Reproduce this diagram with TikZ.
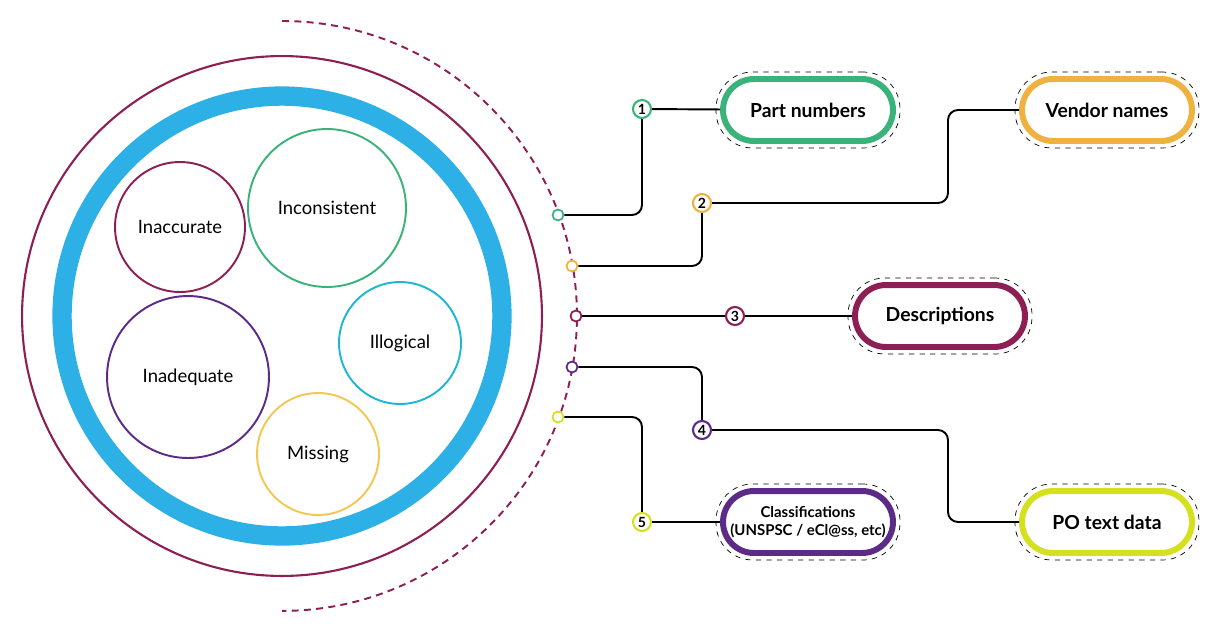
\documentclass[tikz,border=0pt]{standalone}
\usepackage{fontspec}
\setmainfont{Lato}
\usetikzlibrary{fit}
\definecolor{maroon}{HTML}{8E1F55}
\definecolor{ringblue}{HTML}{2DB0E6}
\definecolor{cgreen}{HTML}{3AB37B}
\definecolor{ccyan}{HTML}{1DB7D3}
\definecolor{cpurple}{HTML}{5C2B87}
\definecolor{cyellow}{HTML}{F3C752}
\definecolor{corange}{HTML}{EFB23F}
\definecolor{clime}{HTML}{D5E021}
\tikzset{
	issue/.style  = {draw=#1, line width=1.1pt, circle, font=\fontsize{10.5}{12}\selectfont},
	pill/.style   = {draw=#1, line width=3.4pt, rounded corners=0.62cm, minimum width=3.4cm,
		minimum height=1.24cm, font=\fontsize{11}{13}\bfseries\selectfont, align=center},
	halo/.style   = {draw, dashed, thin, rounded corners=0.73cm, inner sep=0.08cm},
	num/.style    = {draw=#1, fill=white, line width=1.2pt, circle, inner sep=0pt, minimum size=0.36cm,
		font=\fontsize{8}{9}\bfseries\selectfont},
	dot/.style    = {draw=#1, fill=white, line width=1pt, circle, inner sep=0pt, minimum size=0.22cm},
	link/.style   = {line width=1.1pt, rounded corners=0.2cm}
}
\begin{document}
\begin{tikzpicture}[x=0.02cm, y=-0.02cm]
\useasboundingbox (0,0) rectangle (1221,633);
% big circles
\coordinate (c) at (282,316);
\draw[maroon, line width=1.2pt] (c) circle[radius=5.2cm];
\draw[ringblue, line width=11pt] (c) circle[radius=4.4cm];
\draw[maroon, line width=1.1pt, dash pattern=on 4pt off 3pt] (282,21) arc[start angle=90, end angle=-90, radius=5.9cm];
% the issues
\node[issue=maroon, minimum size=2.6cm] (inacc) at (180,227) {Inaccurate};
\node[issue=cgreen, minimum size=3.16cm] (incons) at (327,208) {Inconsistent};
\node[issue=ccyan, minimum size=2.44cm] (illog) at (400,343) {Illogical};
\node[issue=cpurple, minimum size=3.24cm] (inadeq) at (188,377) {Inadequate};
\node[issue=cyellow, minimum size=2.44cm] (miss) at (318,454) {Missing};
% dots on the arc
\node[dot=cgreen] (d1) at (558,215) {};
\node[dot=corange] (d2) at (572,266) {};
\node[dot=maroon] (d3) at (576,316) {};
\node[dot=cpurple] (d4) at (572,367) {};
\node[dot=clime] (d5) at (558,417) {};
% data boxes
\node[pill=cgreen] (part) at (808,110) {Part numbers};
\node[pill=corange] (vend) at (1107,110) {Vendor names};
\node[pill=maroon] (desc) at (940,316) {Descriptions};
\node[pill=clime] (po) at (1107,522) {PO text data};
\node[pill=cpurple, font=\fontsize{8.5}{10}\bfseries\selectfont] (cls) at (808,522) {Classifications\\(UNSPSC / eCl@ss, etc)};
\foreach \b in {part,vend,desc,po,cls}
	\node[halo, fit=(\b)] {};
% connectors
\node[num=cgreen] (n1) at (642,109) {1};
\node[num=corange] (n2) at (702,203) {2};
\node[num=maroon] (n3) at (735,316) {3};
\node[num=cpurple] (n4) at (702,430) {4};
\node[num=clime] (n5) at (642,522) {5};
\draw[link] (d1) -| (n1);
\draw[link] (n1) -- (part);
\draw[link] (d2) -| (n2);
\draw[link] (n2) -- (948,203) |- (vend);
\draw[link] (d3) -- (n3);
\draw[link] (n3) -- (desc);
\draw[link] (d4) -| (n4);
\draw[link] (n4) -- (948,430) |- (po);
\draw[link] (d5) -| (n5);
\draw[link] (n5) -- (cls);
\end{tikzpicture}
\end{document}
